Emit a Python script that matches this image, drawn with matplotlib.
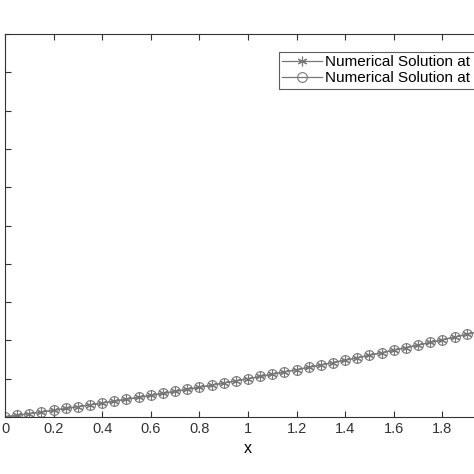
import numpy as np
import matplotlib
matplotlib.use("Agg")
import matplotlib.pyplot as plt

plt.rcParams["font.family"] = ["Liberation Sans", "DejaVu Sans"]

# values (x from 0 to 2, step 0.05)
x_vals = [0.0, 0.05, 0.1, 0.15, 0.2, 0.25, 0.3, 0.35, 0.4, 0.45, 0.5, 0.55, 0.6, 0.65,
          0.7, 0.75, 0.8, 0.85, 0.9, 0.95, 1.0, 1.05, 1.1, 1.15, 1.2, 1.25, 1.3, 1.35,
          1.4, 1.45, 1.5, 1.55, 1.6, 1.65, 1.7, 1.75, 1.8, 1.85, 1.9, 1.95, 2.0]
y_N = [0.0, 0.0043, 0.0087, 0.0131, 0.0176, 0.0222, 0.0269, 0.0316, 0.0364, 0.0413,
       0.0463, 0.0513, 0.0564, 0.0616, 0.0669, 0.0722, 0.0776, 0.0831, 0.0887, 0.0943,
       0.1, 0.1058, 0.1117, 0.1176, 0.1236, 0.1297, 0.1359, 0.1421, 0.1484, 0.1548,
       0.1613, 0.1678, 0.1744, 0.1811, 0.1879, 0.1947, 0.2016, 0.2086, 0.2157, 0.2228, 0.23]
y_2N = list(y_N)
x_ticks = [0, 0.2, 0.4, 0.6, 0.8, 1, 1.2, 1.4, 1.6, 1.8, 2]
x_ticklabels = ["0", "0.2", "0.4", "0.6", "0.8", "1", "1.2", "1.4", "1.6", "1.8", ""]

fig = plt.figure(figsize=(4.74, 4.74), dpi=100)
ax = fig.add_axes([5 / 474, 57 / 474, 486 / 474, 383 / 474])

gray = "#777777"
ax.plot(x_vals, y_N, color=gray, lw=0.9, marker=(6, 2, 0), ms=7,
        mew=0.8, label="Numerical Solution at N")
ax.plot(x_vals, y_2N, color=gray, lw=0.9, marker="o", ms=7, mfc="none",
        mew=0.8, label="Numerical Solution at 2N")

ax.set_xlim(0, 2)
ax.set_ylim(0, 1)
ax.set_xticks(x_ticks)
ax.set_xticklabels(x_ticklabels, fontsize=10.5)
ax.set_yticks(np.arange(0, 1.01, 0.1))
ax.set_yticklabels([])
ax.tick_params(direction="in", length=4, width=0.8, colors="#333333", top=True, right=True)
ax.set_xlabel("x", fontsize=11.5)
for s in ax.spines.values():
    s.set_color("#333333")
    s.set_linewidth(0.8)

leg = ax.legend(loc="upper left", bbox_to_anchor=(271 / 474, 1 - 44 / 474),
                bbox_transform=fig.transFigure, fontsize=11, frameon=True,
                fancybox=False, edgecolor="#333333", handlelength=2.6,
                borderpad=0.25, labelspacing=0.1, handletextpad=0.2)
leg.get_frame().set_linewidth(0.8)

fig.savefig("out.png", dpi=100)
